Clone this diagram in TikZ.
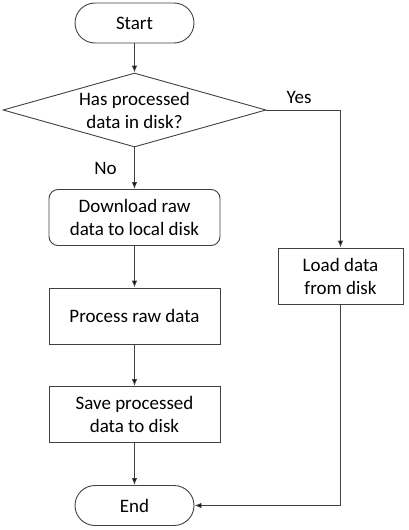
\documentclass[tikz,border=0pt]{standalone}
\usepackage{fontspec}
\setmainfont{Carlito}
\usepackage{tikz}
\usetikzlibrary{positioning,shapes.geometric,arrows.meta}

\begin{document}
\begin{tikzpicture}[x=1pt,y=1pt,node distance=98.5pt,on grid,auto,
    >={Latex[length=7pt,width=5.5pt]},line width=0.9pt]
    \tikzset{base/.style={draw=black!75,text=black,align=center,font=\fontsize{19pt}{23pt}\selectfont},
      terminal/.style={base,rectangle,rounded corners=20pt,minimum width=119pt,minimum height=40pt},
      decision/.style={base,diamond,inner sep=0pt,aspect=3.55,minimum width=263pt,minimum height=74pt},
      process/.style={base,rectangle,minimum width=171pt,minimum height=56pt},
      roundproc/.style={process,rounded corners=9pt},
      lbl/.style={font=\fontsize{19pt}{23pt}\selectfont,text=black}}
    \useasboundingbox (0,0) rectangle (408,-530);
    \node[terminal] (start) at (134.5,-23) {Start};
    \node[decision] (has) [below = 87pt of start] {Has processed\\data in disk?};
    \node[roundproc] (download) [below = 107.5pt of has] {Download raw\\data to local disk};
    \node[process] (process) [below = of download] {Process raw data};
    \node[process] (save) [below = of process] {Save processed\\data to disk};
    \node[terminal] (end) [below = 91pt of save] {End};
    \node[process,minimum width=125pt] (load) [below right = 58.5pt and 206pt of download] {Load data\\from disk};

    \path[->,draw=black!75]
    (start) edge [] (has)
    (has)
    edge [] node [lbl,left=14pt,pos=0.5] {No} (download)
    edge [to path={-| (\tikztotarget) \tikztonodes}] node [lbl,above=3pt,pos=0.22] {Yes} (load)
    (download) edge [] (process)
    (process) edge [] (save)
    (save) edge [] (end)
    (load) edge [to path={|- (\tikztotarget)}] (end)
    ;
\end{tikzpicture}
\end{document}
